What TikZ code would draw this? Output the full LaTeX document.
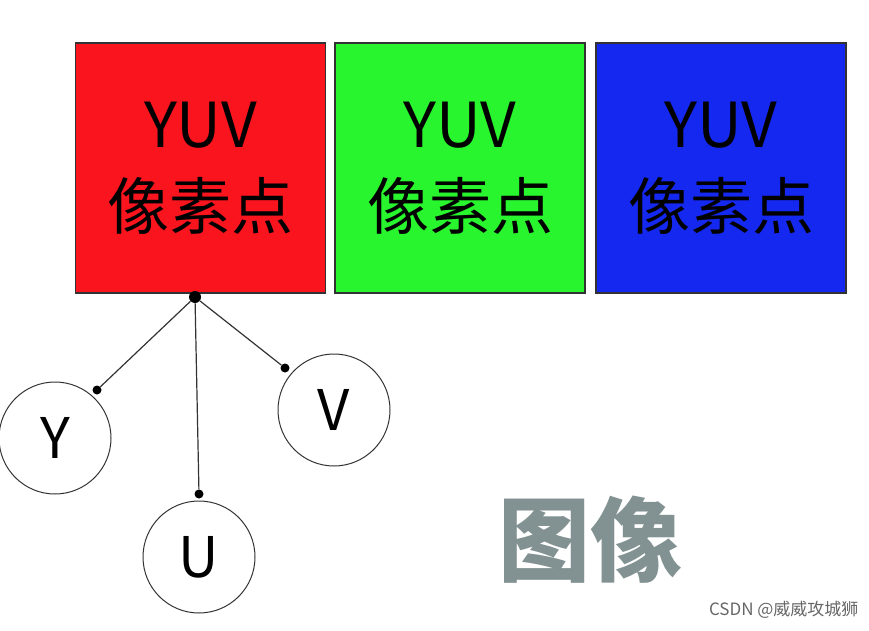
\documentclass[tikz,border=0pt]{standalone}
\usepackage{fontspec}
\setmainfont{Noto Sans CJK SC}
\begin{document}
\begin{tikzpicture}[x=1pt,y=-1pt,
  pix/.style={draw=black!80,line width=1.2pt,minimum width=250pt,minimum height=250pt,inner sep=0pt,align=center,font=\fontsize{62}{82}\selectfont},
  comp/.style={circle,draw=black!80,line width=1pt,minimum size=112pt,inner sep=0pt,font=\fontsize{56}{60}\selectfont},
  dot/.style={circle,fill=black,inner sep=0pt,minimum size=9pt},
  conn/.style={draw=black!80,line width=1.2pt}]
\useasboundingbox (0,0) rectangle (869,631);
\node[pix,fill={rgb,255:red,250;green,20;blue,30}] (r) at (200.5,168) {YUV\\像素点};
\node[pix,fill={rgb,255:red,40;green,245;blue,45}] (g) at (460,168) {YUV\\像素点};
\node[pix,fill={rgb,255:red,20;green,40;blue,240}] (b) at (721,168) {YUV\\像素点};
\node[dot,minimum size=12pt] (j) at (195,297) {};
\node[comp] (y) at (55,438) {Y};
\node[comp] (u) at (199,557) {U};
\node[comp] (v) at (334,410) {V};
\node[dot] (dy) at (97,390) {};
\node[dot] (du) at (199,494) {};
\node[dot] (dv) at (285,368) {};
\draw[conn] (j) -- (dy);
\draw[conn] (j) -- (du);
\draw[conn] (j) -- (dv);
\node[text={rgb,255:red,130;green,145;blue,145},font=\fontsize{92}{96}\selectfont\bfseries] (t) at (590,540) {图像};
\node[text=black!60,font=\fontsize{17}{20}\selectfont,anchor=east] (w) at (862,610) {CSDN @威威攻城狮};
\end{tikzpicture}
\end{document}
